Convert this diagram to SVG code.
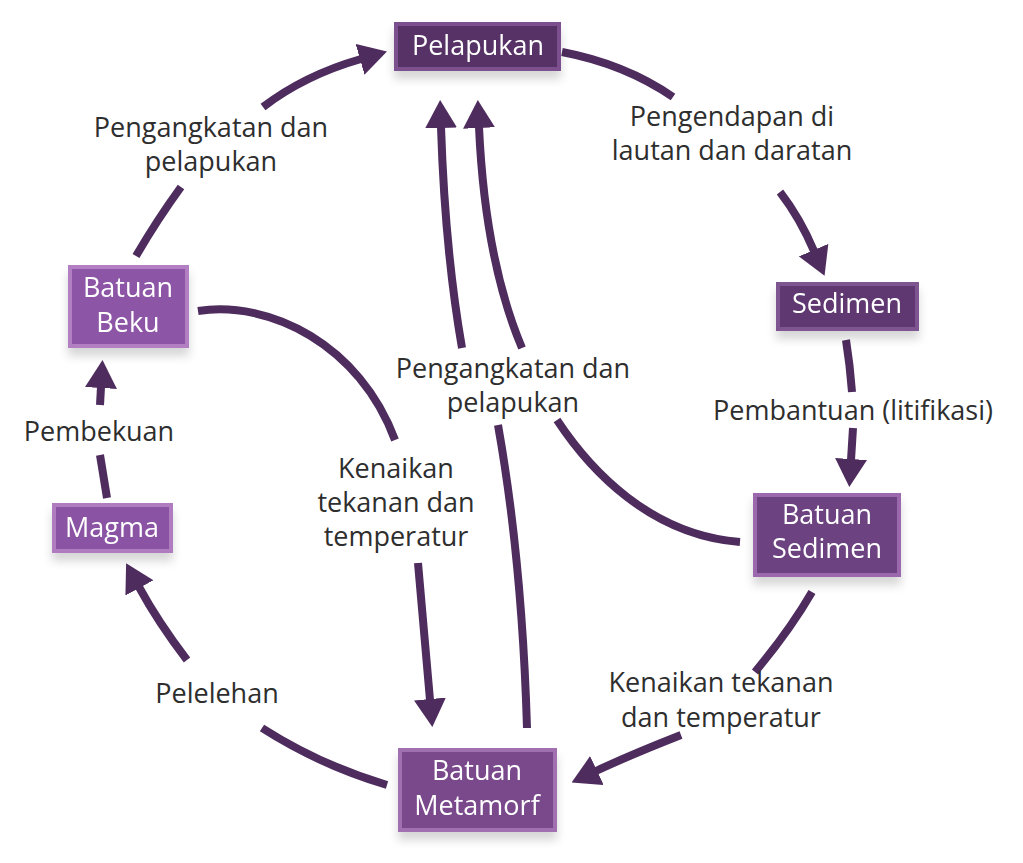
<svg xmlns="http://www.w3.org/2000/svg" width="1023" height="863" viewBox="0 0 1023 863">
<style>
  .lbl { font-family: "Open Sans", "Liberation Sans", sans-serif; font-size: 27px; fill: #2e2e2e; text-anchor: middle; }
  .ntx { font-family: "Open Sans", "Liberation Sans", sans-serif; font-size: 27px; fill: #ffffff; text-anchor: middle; }
  .con { fill: none; stroke: #4e2c5e; stroke-width: 8; stroke-linecap: butt; }
  .arr { marker-end: url(#ah); }
</style>
<defs>
  <marker id="ah" viewBox="0 0 28 32" refX="1" refY="16" markerWidth="28" markerHeight="32" markerUnits="userSpaceOnUse" orient="auto">
    <path d="M0,0 L28,16 L0,32 z" fill="#4e2c5e"/>
  </marker>
  <filter id="sh" x="-20%" y="-20%" width="140%" height="160%">
    <feDropShadow dx="0" dy="8" stdDeviation="5" flood-color="#000" flood-opacity="0.16"/>
  </filter>
</defs>
<rect width="1023" height="863" fill="#ffffff"/>

<g id="connectors">
  <path class="con" d="M136,256 Q157,220 181,187"/>
  <path class="con arr" d="M263,107 Q305,75 361,59"/>
  <path class="con" d="M562,52 Q625,64 673,97"/>
  <path class="con arr" d="M780,192 Q800,218 814,251"/>
  <path class="con" d="M846,340 Q850,365 852,392"/>
  <path class="con arr" d="M853,428 L851,460"/>
  <path class="con" d="M527,728 Q522,560 498,425"/>
  <path class="con arr" d="M462,348 Q445,250 441,127"/>
  <path class="con arr" d="M522,348 Q485,260 479,127"/>
  <path class="con" d="M740,542 C650,535 590,470 557,420"/>
  <path class="con" d="M198,311 C270,300 360,345 395,440"/>
  <path class="con arr" d="M418,563 L430,700"/>
  <path class="con" d="M812,592 Q790,630 755,672"/>
  <path class="con arr" d="M681,735 Q630,755 596,771"/>
  <path class="con" d="M387,785 Q320,765 262,728"/>
  <path class="con arr" d="M187,660 Q158,622 139,587"/>
  <path class="con" d="M107,498 L100,455"/>
  <path class="con arr" d="M100,405 L101,387"/>
</g>

<g id="labels">
  <text class="lbl" x="211" y="137">Pengangkatan dan<tspan x="211" dy="34">pelapukan</tspan></text>
  <text class="lbl" x="732" y="126">Pengendapan di<tspan x="732" dy="34">lautan dan daratan</tspan></text>
  <text class="lbl" x="853" y="420">Pembantuan (litifikasi)</text>
  <text class="lbl" x="513" y="378">Pengangkatan dan<tspan x="513" dy="34">pelapukan</tspan></text>
  <text class="lbl" x="396" y="478">Kenaikan<tspan x="396" dy="34">tekanan dan</tspan><tspan x="396" dy="34">temperatur</tspan></text>
  <text class="lbl" x="99" y="441">Pembekuan</text>
  <text class="lbl" x="217" y="703">Pelelehan</text>
  <text class="lbl" x="721" y="692">Kenaikan tekanan<tspan x="721" dy="35">dan temperatur</tspan></text>
</g>

<g id="node-pelapukan" filter="url(#sh)">
  <rect x="396" y="24" width="163" height="45" fill="#573366" stroke="#7c4f8f" stroke-width="4"/>
  <text class="ntx" x="478" y="55">Pelapukan</text>
</g>
<g id="node-sedimen" filter="url(#sh)">
  <rect x="778" y="284" width="139" height="45" fill="#5f3872" stroke="#7e5591" stroke-width="4"/>
  <text class="ntx" x="847" y="313">Sedimen</text>
</g>
<g id="node-batuan-sedimen" filter="url(#sh)">
  <rect x="755" y="495" width="144" height="80" fill="#6c4280" stroke="#9b68ad" stroke-width="4"/>
  <text class="ntx" x="827" y="524">Batuan<tspan x="827" dy="34">Sedimen</tspan></text>
</g>
<g id="node-batuan-metamorf" filter="url(#sh)">
  <rect x="400" y="750" width="155" height="80" fill="#7a488c" stroke="#a070b0" stroke-width="4"/>
  <text class="ntx" x="477" y="780">Batuan<tspan x="477" dy="35">Metamorf</tspan></text>
</g>
<g id="node-batuan-beku" filter="url(#sh)">
  <rect x="70" y="267" width="117" height="79" fill="#8d55a5" stroke="#b27fc3" stroke-width="4"/>
  <text class="ntx" x="128" y="297">Batuan<tspan x="128" dy="35">Beku</tspan></text>
</g>
<g id="node-magma" filter="url(#sh)">
  <rect x="54" y="505" width="117" height="46" fill="#8b52a3" stroke="#b07cc0" stroke-width="4"/>
  <text class="ntx" x="112" y="537">Magma</text>
</g>
</svg>
